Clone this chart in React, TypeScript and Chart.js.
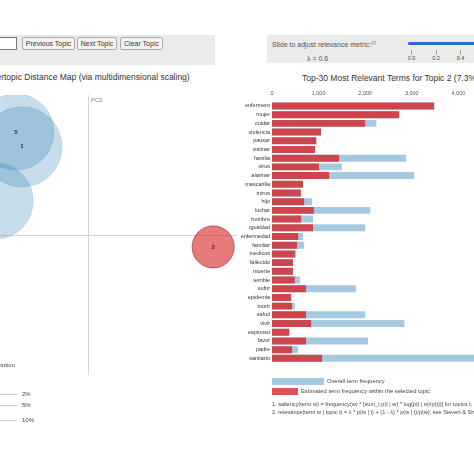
import React, { useEffect, useRef } from "react";
import { Chart, registerables } from "chart.js";

Chart.register(...registerables);

const FONT = '"Liberation Sans", Arial, sans-serif';

// Top-30 terms for the selected topic
const terms = [
  "enfermero", "mujer", "cuidar", "violencia", "pausar", "visimar", "familia", "virus",
  "alarmar", "mascarilla", "mirus", "hijo", "luchar", "hombre", "igualdad", "enfermedad",
  "familiar", "medicos", "fallecido", "muerte", "terrible", "sufrir", "epidemia", "morir",
  "salud", "vivir", "espinoso", "favor", "padre", "sanitario",
];
// Estimated term frequency within the selected topic
const topicFreq = [
  3480, 2730, 2000, 1050, 950, 925, 1440, 1010,
  1225, 665, 620, 690, 900, 625, 880, 565,
  540, 490, 450, 450, 490, 730, 410, 430,
  730, 840, 370, 730, 430, 1075,
];
// Overall term frequency
const overallFreq = [
  3480, 2730, 2240, 1050, 950, 925, 2880, 1500,
  3050, 665, 620, 860, 2110, 880, 2000, 665,
  690, 515, 450, 450, 600, 1800, 410, 490,
  2000, 2840, 370, 2060, 560, 4600,
];
const freqTicks = [0, 1000, 2000, 3000, 4000];
const freqMax = 5000;

// Intertopic map: topic id, PC1, PC2, marginal share (%)
const topicIds = [1, 2, 3, 4, 5];
const pc1 = [-0.111, 0.21, -0.156, -0.3, -0.121];
const pc2 = [0.148, -0.02, 0.057, 0.1, 0.173];
const topicShare = [26.5, 7.3, 24.0, 18.3, 23.9];
const selectedTopic = 2;

const RADIUS_PER_SQRT_PCT = 7.8;

function BarPanel() {
  const ref = useRef<HTMLCanvasElement>(null);
  useEffect(() => {
    if (!ref.current) return;
    const chart = new Chart(ref.current, {
      type: "bar",
      data: {
        labels: terms,
        datasets: [
          {
            label: "Estimated term frequency within the selected topic",
            data: topicFreq,
            backgroundColor: "rgba(214,39,40,0.8)",
            grouped: false,
            barPercentage: 0.8,
            categoryPercentage: 1,
          },
          {
            label: "Overall term frequency",
            data: overallFreq,
            backgroundColor: "rgba(31,119,180,0.4)",
            grouped: false,
            barPercentage: 0.8,
            categoryPercentage: 1,
          },
        ],
      },
      options: {
        indexAxis: "y",
        animation: false,
        responsive: false,
        layout: { padding: 0, autoPadding: false },
        plugins: { legend: { display: false }, tooltip: { enabled: false } },
        scales: {
          x: {
            position: "top",
            min: 0,
            max: freqMax,
            afterBuildTicks: (s: any) => {
              s.ticks = freqTicks.map((v) => ({ value: v }));
            },
            ticks: {
              callback: (v: any) => Number(v).toLocaleString("en-US"),
              font: { family: FONT, size: 5.5 },
              color: "#555",
              padding: 5,
              maxRotation: 0,
            },
            grid: { display: false, drawTicks: false },
            border: { display: false },
            afterFit: (s: any) => {
              s.height = 16.6;
              s.paddingLeft = 0;
              s.paddingRight = 0;
            },
          },
          y: {
            ticks: {
              font: { family: FONT, size: 5.5 },
              color: "#333",
              padding: 2,
              autoSkip: false,
            },
            grid: { display: false, drawTicks: false },
            border: { display: false },
            afterFit: (s: any) => {
              s.width = 47;
            },
          },
        },
      },
    });
    return () => chart.destroy();
  }, []);
  return (
    <canvas
      ref={ref}
      width={280}
      height={283}
      style={{ position: "absolute", left: 225, top: 85, width: 280, height: 283 }}
    />
  );
}

function MapPanel() {
  const ref = useRef<HTMLCanvasElement>(null);
  useEffect(() => {
    if (!ref.current) return;
    const axesPlugin = {
      id: "pcAxes",
      beforeDatasetsDraw(chart: any) {
        const { ctx, chartArea, scales } = chart;
        const x0 = scales.x.getPixelForValue(0);
        const y0 = scales.y.getPixelForValue(0);
        ctx.save();
        ctx.strokeStyle = "#d4d4d4";
        ctx.lineWidth = 1;
        ctx.beginPath();
        ctx.moveTo(Math.round(x0) + 0.5, chartArea.top);
        ctx.lineTo(Math.round(x0) + 0.5, chartArea.bottom);
        ctx.moveTo(chartArea.left, Math.round(y0) + 0.5);
        ctx.lineTo(chartArea.right, Math.round(y0) + 0.5);
        ctx.stroke();
        ctx.fillStyle = "#888";
        ctx.font = `6px ${FONT}`;
        ctx.textBaseline = "top";
        ctx.fillText("PC2", x0 + 3, chartArea.top + 2);
        ctx.restore();
      },
      afterDatasetsDraw(chart: any) {
        const { ctx } = chart;
        ctx.save();
        ctx.font = `bold 6px ${FONT}`;
        ctx.textAlign = "center";
        ctx.textBaseline = "middle";
        chart.data.datasets.forEach((ds: any, i: number) => {
          const el = chart.getDatasetMeta(i).data[0];
          if (!el) return;
          ctx.fillStyle = ds.topicId === selectedTopic ? "#7a1010" : "#1c2a3a";
          ctx.fillText(String(ds.topicId), el.x, el.y);
        });
        ctx.restore();
      },
    };
    const chart = new Chart(ref.current, {
      type: "bubble",
      data: {
        datasets: topicIds.map((id, i) => ({
          topicId: id,
          data: [{ x: pc1[i], y: pc2[i], r: RADIUS_PER_SQRT_PCT * Math.sqrt(topicShare[i]) }],
          backgroundColor: id === selectedTopic ? "rgba(214,39,40,0.62)" : "rgba(31,119,180,0.25)",
          borderColor: id === selectedTopic ? "rgba(140,30,30,0.55)" : "rgba(31,119,180,0.18)",
          borderWidth: 1,
          clip: false,
        })) as any,
      },
      options: {
        animation: false,
        responsive: false,
        layout: { padding: 0, autoPadding: false },
        plugins: { legend: { display: false }, tooltip: { enabled: false } },
        scales: {
          x: { display: false, min: -0.25, max: 0.25 },
          y: { display: false, min: -0.235, max: 0.235 },
        },
      },
      plugins: [axesPlugin],
    });
    return () => chart.destroy();
  }, []);
  return (
    <canvas
      ref={ref}
      width={298}
      height={280}
      style={{ position: "absolute", left: -61, top: 95, width: 298, height: 280 }}
    />
  );
}

const txt = (extra: React.CSSProperties): React.CSSProperties => ({
  position: "absolute",
  fontFamily: FONT,
  whiteSpace: "nowrap",
  lineHeight: 1,
  color: "#333",
  ...extra,
});

const btn = (left: number, width: number): React.CSSProperties => ({
  position: "absolute",
  left,
  top: 37,
  width,
  height: 13,
  boxSizing: "border-box",
  border: "1px solid #aaa",
  borderRadius: 2,
  background: "#f3f3f3",
  fontFamily: FONT,
  fontSize: 7,
  color: "#333",
  display: "flex",
  alignItems: "center",
  justifyContent: "center",
});

export default function App() {
  return (
    <div
      style={{
        position: "fixed",
        left: 0,
        top: 0,
        width: 474,
        height: 474,
        overflow: "hidden",
        background: "#fff",
      }}
    >
      {/* control bars */}
      <div style={{ position: "absolute", left: 0, top: 35, width: 215, height: 30, background: "#ebebeb" }} />
      <div style={{ position: "absolute", left: 267, top: 35, width: 207, height: 28, background: "#ebebeb" }} />
      <div
        style={{
          position: "absolute",
          left: -2,
          top: 37,
          width: 19,
          height: 13,
          boxSizing: "border-box",
          border: "1px solid #777",
          background: "#fff",
        }}
      />
      <div style={btn(22, 53)}>Previous Topic</div>
      <div style={btn(77, 40)}>Next Topic</div>
      <div style={btn(120, 43)}>Clear Topic</div>

      <div style={txt({ left: 272, top: 41, fontSize: 7, color: "#555" })}>
        Slide to adjust relevance metric:<sup style={{ fontSize: 4 }}>(2)</sup>
      </div>
      <div style={txt({ left: 307, top: 55, fontSize: 7, color: "#555" })}>λ = 0.6</div>
      <div style={{ position: "absolute", left: 408, top: 42, width: 80, height: 3, background: "#1f6fd0", borderRadius: 2 }} />
      {[411, 435.5, 460].map((x, i) => (
        <React.Fragment key={i}>
          <div style={{ position: "absolute", left: x, top: 50, width: 1, height: 5, background: "#999" }} />
          <div style={txt({ left: x - 5, top: 56, fontSize: 5.5, color: "#444", width: 11, textAlign: "center" })}>
            {["0.0", "0.2", "0.4"][i]}
          </div>
        </React.Fragment>
      ))}

      {/* panel titles */}
      <div style={txt({ left: -13, top: 73, fontSize: 8.5, color: "#333" })}>
        Intertopic Distance Map (via multidimensional scaling)
      </div>
      <div style={txt({ left: 302, top: 74, fontSize: 8.5, color: "#333" })}>
        Top-30 Most Relevant Terms for Topic 2 (7.3% of tokens)
      </div>

      <MapPanel />
      <BarPanel />

      {/* marginal topic distribution legend */}
      <div style={txt({ left: -53, top: 362, fontSize: 6, color: "#444" })}>Marginal topic distribution</div>
      {[
        { y: 394, label: "2%" },
        { y: 405, label: "5%" },
        { y: 420, label: "10%" },
      ].map((d) => (
        <React.Fragment key={d.label}>
          <div style={{ position: "absolute", left: 0, top: d.y, width: 17, height: 1, background: "#ccc" }} />
          <div style={txt({ left: 22, top: d.y - 3, fontSize: 6, color: "#444" })}>{d.label}</div>
        </React.Fragment>
      ))}

      {/* bar legend and notes */}
      <div style={{ position: "absolute", left: 272, top: 378, width: 52, height: 7, background: "rgba(31,119,180,0.4)" }} />
      <div style={txt({ left: 327, top: 379, fontSize: 5.7, color: "#444" })}>Overall term frequency</div>
      <div style={{ position: "absolute", left: 272, top: 388, width: 26, height: 7, background: "rgba(214,39,40,0.8)" }} />
      <div style={txt({ left: 301, top: 389, fontSize: 5.8, color: "#444" })}>
        Estimated term frequency within the selected topic
      </div>
      <div style={txt({ left: 272, top: 402, fontSize: 5.6, color: "#444" })}>
        1. saliency(term w) = frequency(w) * [sum_t p(t | w) * log(p(t | w)/p(t))] for topics t; see Chuang et. al (2012)
      </div>
      <div style={txt({ left: 272, top: 410, fontSize: 5.6, color: "#444" })}>
        2. relevance(term w | topic t) = λ * p(w | t) + (1 - λ) * p(w | t)/p(w); see Sievert &amp; Shirley (2014)
      </div>
    </div>
  );
}
